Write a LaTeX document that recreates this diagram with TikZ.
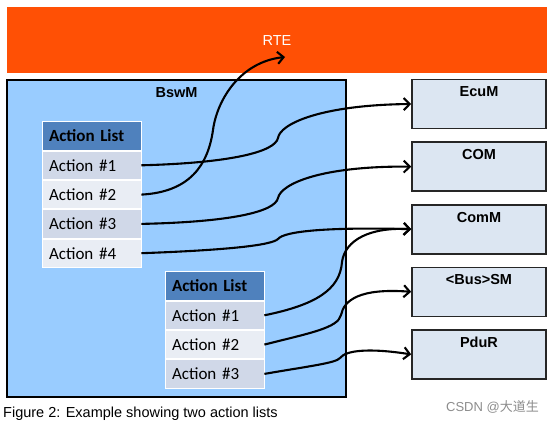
\documentclass[tikz,border=0pt]{standalone}
\usepackage{fontspec}
\setmainfont{Liberation Sans}
\newfontfamily\calibrifont{Carlito}
\newfontfamily\cjkfont{Noto Sans CJK SC}
\usetikzlibrary{positioning, arrows.meta}
\definecolor{RteOrange}{RGB}{255,80,5}
\definecolor{BswBlue}{RGB}{153,204,255}
\definecolor{ModFill}{RGB}{220,230,242}
\definecolor{HeadBlue}{RGB}{79,129,189}
\definecolor{RowDark}{RGB}{208,216,232}
\definecolor{RowLight}{RGB}{233,237,244}
\begin{document}
\begin{tikzpicture}[x=1pt, y=-1pt,
  modbox/.style={draw=black!85, line width=1.6pt, fill=ModFill, minimum width=134pt, minimum height=49pt, inner sep=0pt},
  modlabel/.style={font=\bfseries\fontsize{14.5}{16}\selectfont, anchor=north, inner sep=0pt},
  acthead/.style={fill=HeadBlue, draw=white, line width=0.8pt, minimum height=28.5pt, text width=85pt, inner xsep=7pt, inner ysep=0pt, align=left, font=\calibrifont\bfseries\fontsize{17}{19}\selectfont},
  actrow/.style={acthead, font=\calibrifont\fontsize{17}{19}\selectfont},
  link/.style={line width=2.1pt, -{Straight Barb[length=6pt, width=12pt]}}]
  \useasboundingbox (0,0) rectangle (554,425);
  % RTE bar and BswM
  \node[fill=RteOrange, minimum width=540pt, minimum height=66pt, inner sep=0pt] (rte) at (277,40) {};
  \node[text=white, font=\fontsize{14.5}{16}\selectfont] (rtetext) at (277,41) {RTE};
  \node[draw, line width=1.6pt, fill=BswBlue, minimum width=339pt, minimum height=317pt, inner sep=0pt,
        label={[modlabel, yshift=-8pt]north:BswM}] (bswm) at (176.5,238.5) {};
  \coordinate (rtetip) at (285,57);
  % action lists
  \node[acthead] (lah) at (91.5,136) {Action List};
  \foreach \i/\c [remember=\i as \prev (initially h)] in {1/RowDark,2/RowLight,3/RowDark,4/RowLight}
    \node[actrow, fill=\c, below=0pt of la\prev] (la\i) {Action \#\i};
  \node[acthead] (lbh) at (214.5,286) {Action List};
  \foreach \i/\c [remember=\i as \prev (initially h)] in {1/RowDark,2/RowLight,3/RowDark}
    \node[actrow, fill=\c, below=0pt of lb\prev] (lb\i) {Action \#\i};
  % modules
  \node[modbox, label={[modlabel, yshift=-8pt]north:EcuM}] (ecum) at (479,104) {};
  \node[modbox, below=12pt of ecum, label={[modlabel, yshift=-8pt]north:COM}] (com) {};
  \node[modbox, below=12pt of com, label={[modlabel, yshift=-8pt]north:ComM}] (comm) {};
  \node[modbox, below=12pt of comm, label={[modlabel, yshift=-8pt]north:<Bus>SM}] (bussm) {};
  \node[modbox, below=12pt of bussm, label={[modlabel, yshift=-8pt]north:PduR}] (pdur) {};
  % connectors
  \draw[link] (la1.east) .. controls (230,163) and (275,152) .. (278,138) .. controls (280,124) and (320,105) .. (ecum.west);
  \draw[link] (la2.east) .. controls (190,192) and (208,165) .. (213,130) .. controls (217,100) and (240,62) .. (rtetip);
  \draw[link] (la3.east) .. controls (230,222) and (275,212) .. (278,198) .. controls (281,184) and (320,166) .. (com.west);
  \draw[link] (la4.east) .. controls (230,250) and (272,245) .. (278,239) .. controls (284,231) and (330,227) .. (comm.west);
  \draw[link] (lb1.east) .. controls (315,305) and (340,290) .. (342,262) .. controls (345,240) and (370,227) .. (comm.west);
  \draw[link] (lb2.east) .. controls (310,333) and (338,328) .. (341,315) .. controls (344,300) and (360,288) .. (bussm.west);
  \draw[link] (lb3.east) .. controls (310,366) and (336,363) .. (340,358) .. controls (346,350) and (370,348) .. (pdur.west);
  % caption
  \node[anchor=west, inner sep=0pt, font=\fontsize{14.5}{16}\selectfont] (caption) at (3,414) {Figure 2: Example showing two action lists};
  \node[anchor=east, inner sep=0pt, text=black!45, font=\fontsize{13}{15}\selectfont] (mark) at (539,407) {CSDN @{\cjkfont 大道生}};
\end{tikzpicture}
\end{document}
